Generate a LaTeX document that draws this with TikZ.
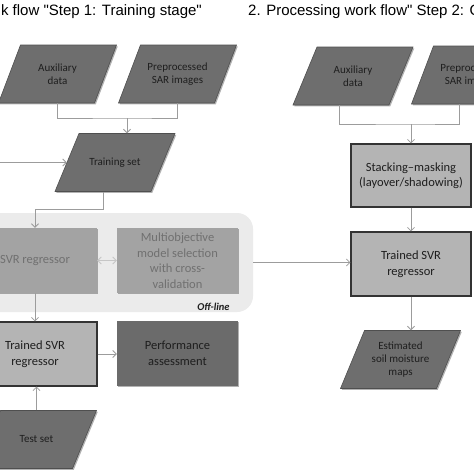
\documentclass[tikz,border=0pt]{standalone}
\usepackage{fontspec}
\setmainfont{Carlito}
\newfontfamily\titlefont{Liberation Sans}
\usetikzlibrary{arrows.meta,shadows,calc}
\definecolor{paraF}{HTML}{6E6E6E}
\definecolor{paraD}{HTML}{4F4F4F}
\definecolor{boxF}{HTML}{B4B4B4}
\definecolor{boxD}{HTML}{333333}
\definecolor{perfF}{HTML}{6B6B6B}
\definecolor{offF}{HTML}{A3A3A3}
\definecolor{offT}{HTML}{707070}
\definecolor{regionF}{HTML}{EBEBEB}
\definecolor{lineC}{HTML}{9C9C9C}
\definecolor{lineL}{HTML}{C6C6C6}
\definecolor{txt}{HTML}{1E1E1E}
\newcommand\paranode[5]{%
  \draw[parashape] (#2-48+#5,#3-29) -- (#2+48+#5,#3-29) -- (#2+48-#5,#3+29) -- (#2-48-#5,#3+29) -- cycle;
  \node[paratext] (#1) at (#2,#3) {#4};}
\begin{document}
\begin{tikzpicture}[x=1pt,y=-1pt,
  shadowed/.style={drop shadow={shadow xshift=1.3pt,shadow yshift=-1.3pt,opacity=0.3,fill=black}},
  paratext/.style={inner sep=0pt,minimum width=96pt,minimum height=58pt,align=center,
    font=\fontsize{11}{13.3}\selectfont,text=txt},
  parashape/.style={fill=paraF,draw=paraD,line width=0.6pt,shadowed},
  boxtext/.style={rectangle,inner sep=0pt,align=center,font=\fontsize{12.5}{15.5}\selectfont,text=txt},
  solidbox/.style={boxtext,fill=boxF,draw=boxD,line width=1.2pt,shadowed},
  perfbox/.style={boxtext,fill=perfF,shadowed},
  offbox/.style={boxtext,fill=offF,text=offT,shadowed},
  conn/.style={draw=lineC,line width=0.8pt},
  arr/.style={conn,-{Straight Barb[length=3.5pt,width=7pt]}},
  darr/.style={draw=lineL,line width=0.8pt,{Straight Barb[length=3.5pt,width=7pt]}-{Straight Barb[length=3.5pt,width=7pt]}},
  titletext/.style={inner sep=0pt,font=\titlefont\fontsize{15}{18}\selectfont,text=black}
]
\useasboundingbox (0,0) rectangle (474,474);
\clip (0,0) rectangle (474,474);
\fill[white] (0,0) rectangle (474,474);

% titles
\node[titletext,anchor=base east] (t1) at (202,15) {k flow "Step 1: Training stage"};
\node[titletext,anchor=base west] (t2) at (248,15) {2. Processing work flow" Step 2: O};

% off-line region
\node[fill=regionF,rounded corners=16pt,minimum width=300pt,minimum height=99pt,inner sep=0pt] (off) at (103,262.5) {};
\node[inner sep=0pt,font=\fontsize{10.5}{12}\selectfont\bfseries\itshape,text=txt] (offlbl) at (213.5,307) {Off-line};

% left column
\paranode{aux1}{57.5}{74}{Auxiliary\\data}{11}
\paranode{pre1}{177.5}{74}{Preprocessed\\SAR images}{11}
\paranode{train}{115}{162.5}{Training set}{12}
\node[offbox,minimum width=124pt,minimum height=65pt] (svr) at (35,260.5) {SVR regressor};
\node[offbox,minimum width=121pt,minimum height=65pt] (multi) at (177.5,260.5) {Multiobjective\\model selection\\with cross-\\validation};
\node[solidbox,minimum width=124pt,minimum height=64pt] (trL) at (35,354) {Trained SVR\\regressor};
\node[perfbox,minimum width=121pt,minimum height=65pt] (perf) at (177.5,353.5) {Performance\\assessment};
\paranode{test}{36.5}{439.5}{Test set}{12}

% right column
\paranode{aux2}{353}{76}{Auxiliary\\data}{12}
\paranode{pre2}{470.5}{75}{Preprocessed\\SAR images}{11}
\node[solidbox,minimum width=120pt,minimum height=63pt] (stack) at (411,175.5) {Stacking--masking\\(layover/shadowing)};
\node[solidbox,minimum width=120pt,minimum height=64pt] (trR) at (411,264) {Trained SVR\\regressor};
\paranode{est}{400.5}{359.5}{Estimated\\soil moisture\\maps}{12}

% connectors left
\coordinate (j1) at (127,118);
\coordinate (lin) at (0,162.5);
\draw[conn] (aux1.south) |- (j1) -| (pre1.south);
\draw[arr] (j1) -- (j1 |- train.north);
\draw[arr] (lin) -- (train.west);
\draw[arr] ([xshift=-12pt]train.south) |- ($(svr.north)+(0,-18)$) -- (svr.north);
\draw[darr] (svr.east) -- (multi.west);
\draw[arr] (svr.south) -- (trL.north);
\draw[arr] (trL.east) -- (trL.east -| perf.west);
\draw[arr] (test.north) -- (test.north |- trL.south);

% connectors right
\coordinate (j3) at (411,124);
\draw[conn] ([xshift=-14pt]aux2.south) |- (j3) -| ([xshift=-11pt]pre2.south);
\draw[arr] (j3) -- (stack.north);
\draw[arr] (stack.south) -- (trR.north);
\draw[arr] (off.east) -- (off.east -| trR.west);
\draw[arr] (trR.south) -- (trR.south |- est.north);
\end{tikzpicture}
\end{document}
